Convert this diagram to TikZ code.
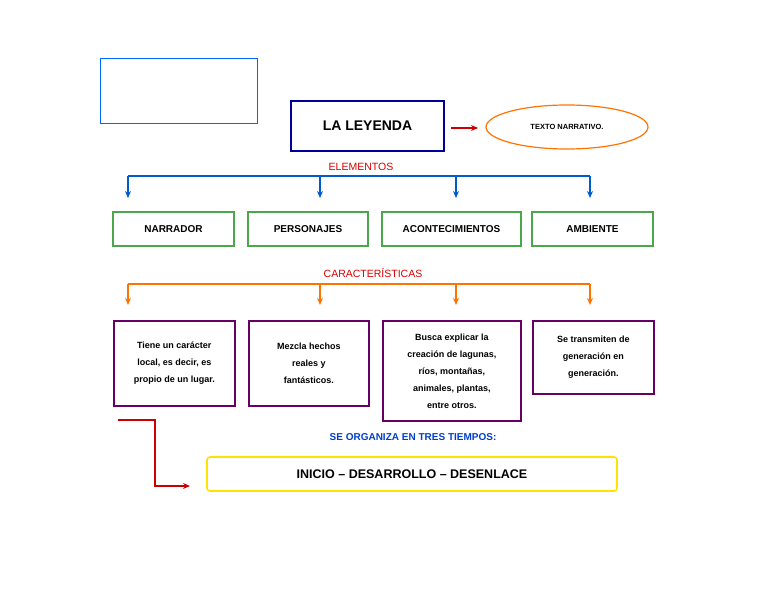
\documentclass[tikz,border=0pt]{standalone}
\usepackage{fontspec}
\setmainfont{Liberation Sans}
\usetikzlibrary{shapes.geometric,arrows.meta}
\begin{document}
\begin{tikzpicture}[x=1pt,y=-1pt,
 gbox/.style={draw=green!50!black!70,line width=1.5pt,minimum height=34pt,font=\bfseries\fontsize{10}{11}\selectfont},
 pbox/.style={draw=violet!80!black,line width=1.6pt,align=center,font=\bfseries\fontsize{9}{17}\selectfont,anchor=north west},
 barrow/.style={-{Stealth[length=7pt,width=6pt]},draw=blue!55!cyan!80!black,line width=1.2pt},
 oarrow/.style={-{Stealth[length=7pt,width=6pt]},draw=orange!90!red,line width=1.2pt}]
\useasboundingbox (0,0) rectangle (768,594);
\node[draw=blue!60!cyan,minimum width=157pt,minimum height=65pt,anchor=north west] (empty) at (100,58) {};
\node[draw=blue!60!black,line width=1.6pt,minimum width=153pt,minimum height=50pt] (ley) at (367.5,126) {\bfseries\fontsize{14}{15}\selectfont LA LEYENDA};
\node[ellipse,draw=orange!90!red,line width=1.2pt,minimum width=162pt,minimum height=44pt] (txt) at (567,127) {\bfseries\fontsize{7.5}{8}\selectfont TEXTO NARRATIVO.};
\draw[-{Stealth[length=7pt,width=6pt]},red!80!black,line width=1.5pt] (ley.east)++(6,2) coordinate (r0) -- (478,128) coordinate (r1);
\node[text=red!85!black,font=\fontsize{10.5}{11}\selectfont] (el) at (361,167) {ELEMENTOS};
\coordinate (b1) at (128,176); \coordinate (b2) at (590,176);
\draw[barrow,-] (b1) -- (b2);
\node[gbox,minimum width=121pt] (n1) at (173.5,229) {NARRADOR};
\node[gbox,minimum width=120pt] (n2) at (308,229) {PERSONAJES};
\node[gbox,minimum width=139pt] (n3) at (451.5,229) {ACONTECIMIENTOS};
\node[gbox,minimum width=121pt] (n4) at (592.5,229) {AMBIENTE};
\foreach \x in {128,320,456,590} \draw[barrow] (\x,176) -- (\x,198);
\node[text=red!85!black,font=\fontsize{10.5}{11}\selectfont] (car) at (373,273) {CARACTERÍSTICAS};
\draw[oarrow,-] (128,284) -- (590,284);
\foreach \x in {128,320,456,590} \draw[oarrow] (\x,284) -- (\x,305);
\node[pbox,minimum width=121pt,minimum height=85pt] (c1) at (113,320) {Tiene un carácter\\local, es decir, es\\propio de un lugar.};
\node[pbox,minimum width=120pt,minimum height=85pt] (c2) at (248,320) {Mezcla hechos\\reales y\\fantásticos.};
\node[pbox,minimum width=138pt,minimum height=100pt] (c3) at (382,320) {Busca explicar la\\creación de lagunas,\\ríos, montañas,\\animales, plantas,\\entre otros.};
\node[pbox,minimum width=121pt,minimum height=73pt] (c4) at (532,320) {Se transmiten de\\generación en\\generación.};
\node[text=blue!70!cyan!80!black,font=\bfseries\fontsize{10}{11}\selectfont] (org) at (413,437) {SE ORGANIZA EN TRES TIEMPOS:};
\node[draw=yellow!85!orange,line width=1.6pt,rounded corners=3pt,minimum width=410pt,minimum height=34pt] (fin) at (412,474) {\bfseries\fontsize{12.5}{13}\selectfont INICIO – DESARROLLO – DESENLACE};
\coordinate (s0) at (118,420);
\draw[-{Stealth[length=7pt,width=6pt]},red!80!black,line width=1.5pt] (s0) -- (155,420) -- (155,486) -- (190,486) coordinate (s1);
\end{tikzpicture}
\end{document}
